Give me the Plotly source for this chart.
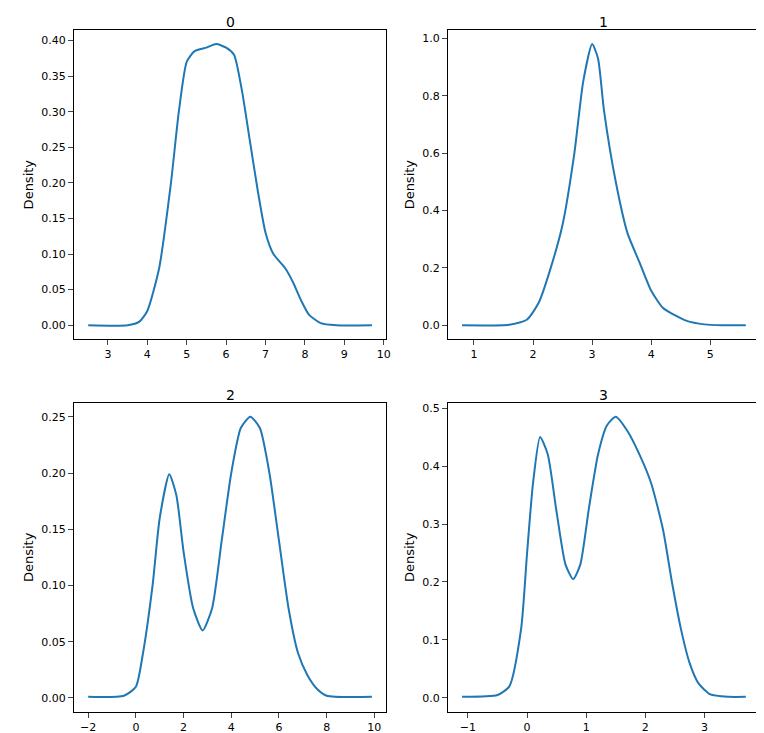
import plotly.graph_objects as go
from plotly.subplots import make_subplots

x0 = [2.5,3.5,3.8,4.0,4.3,4.6,4.8,5.0,5.2,5.5,5.75,6.0,6.2,6.4,6.6,6.8,7.0,7.2,7.5,7.7,7.9,8.1,8.4,8.8,9.7]
y0 = [0,0,0.005,0.02,0.08,0.2,0.3,0.37,0.385,0.39,0.395,0.39,0.38,0.33,0.26,0.19,0.13,0.1,0.08,0.06,0.035,0.015,0.003,0,0]
x1 = [0.8,1.6,1.9,2.1,2.3,2.5,2.7,2.85,3.0,3.1,3.2,3.4,3.6,3.8,4.0,4.2,4.4,4.6,4.9,5.2,5.6]
y1 = [0,0.002,0.02,0.08,0.2,0.35,0.6,0.85,0.98,0.93,0.75,0.5,0.32,0.22,0.12,0.06,0.035,0.015,0.003,0,0]
x2 = [-2,-0.5,0,0.3,0.7,1.0,1.4,1.7,2.0,2.4,2.8,3.2,3.6,4.0,4.4,4.8,5.2,5.6,6.0,6.4,6.8,7.2,7.6,8.0,9.9]
y2 = [0.001,0.002,0.01,0.04,0.1,0.16,0.199,0.18,0.13,0.08,0.06,0.08,0.14,0.2,0.24,0.25,0.24,0.2,0.14,0.08,0.04,0.02,0.008,0.002,0.001]
x3 = [-1.1,-0.5,-0.3,-0.1,0.0,0.1,0.22,0.35,0.5,0.65,0.78,0.9,1.05,1.2,1.35,1.5,1.7,1.9,2.1,2.3,2.45,2.6,2.75,2.9,3.1,3.4,3.7]
y3 = [0.002,0.005,0.02,0.12,0.25,0.37,0.45,0.42,0.32,0.23,0.205,0.23,0.33,0.42,0.47,0.485,0.46,0.42,0.37,0.29,0.2,0.12,0.06,0.025,0.006,0.002,0.002]
titles = ["0","1","2","3"]
yticks = [[0,0.05,0.1,0.15,0.2,0.25,0.3,0.35,0.4],[0,0.2,0.4,0.6,0.8,1.0],
          [0,0.05,0.1,0.15,0.2,0.25],[0,0.1,0.2,0.3,0.4,0.5]]
xticks = [[3,4,5,6,7,8,9,10],[1,2,3,4,5],[-2,0,2,4,6,8,10],[-1,0,1,2,3]]

fig = make_subplots(rows=2, cols=2, subplot_titles=titles, horizontal_spacing=0.09, vertical_spacing=0.093)
data = [(x0,y0),(x1,y1),(x2,y2),(x3,y3)]
for i,(x,y) in enumerate(data):
    r, c = i//2+1, i%2+1
    fig.add_trace(go.Scatter(x=x, y=y, mode="lines", line=dict(color="#1f77b4", width=2, shape="spline", smoothing=0.6), showlegend=False), row=r, col=c)
    fig.update_xaxes(range=[x[0]-0.05*(x[-1]-x[0]), x[-1]+0.05*(x[-1]-x[0])], tickvals=xticks[i],
                     showline=True, mirror=True, linecolor="black", ticks="outside", showgrid=False, zeroline=False, row=r, col=c)
    ymax = max(y)
    fig.update_yaxes(range=[-0.05*ymax, 1.05*ymax], tickvals=yticks[i], tickformat=".2f" if i in (0,2) else ".1f",
                     title=dict(text="Density", standoff=4), showline=True, mirror=True, linecolor="black",
                     ticks="outside", showgrid=False, zeroline=False, row=r, col=c)
fig.update_annotations(font=dict(size=14, color="black"), yshift=-2)
fig.update_layout(width=764, height=733, plot_bgcolor="white", paper_bgcolor="white",
                  margin=dict(l=66, r=7, t=22, b=27), font=dict(family="DejaVu Sans", size=11, color="black"))
fig.write_html("out.html")
